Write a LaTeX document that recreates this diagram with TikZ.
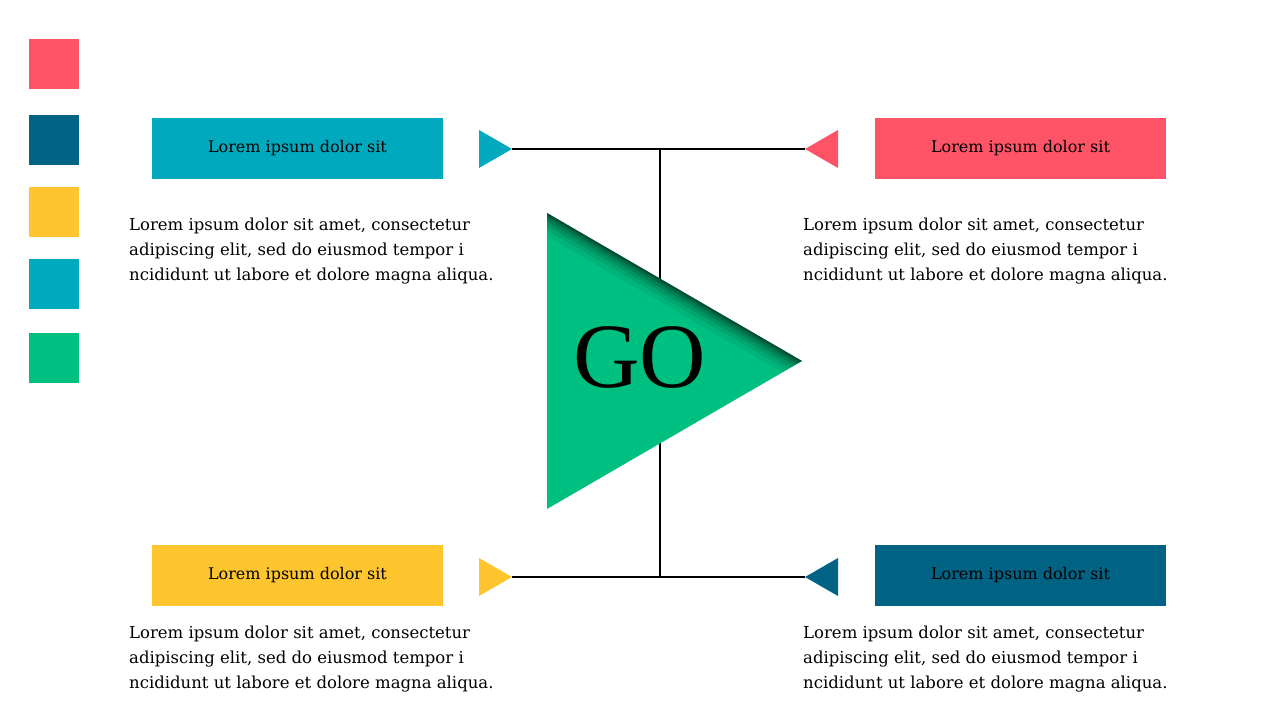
\documentclass[tikz,border=0pt]{standalone}
\usepackage{fontspec}
\setmainfont{DejaVu Serif}
\usetikzlibrary{positioning}
\definecolor{cpink}{HTML}{FF5468}
\definecolor{cnavy}{HTML}{006384}
\definecolor{cyell}{HTML}{FFC52E}
\definecolor{cteal}{HTML}{00A9BE}
\definecolor{cgreen}{HTML}{00C081}
\tikzset{
  swatch/.style={fill=#1, minimum width=50pt, minimum height=50pt, inner sep=0pt},
  label box/.style={fill=#1, minimum width=291pt, minimum height=61pt, inner sep=0pt, font=\fontsize{16}{18}\selectfont},
  body/.style={align=left, anchor=north west, inner sep=0pt, font=\fontsize{16.5}{25}\selectfont},
}
\begin{document}
\begin{tikzpicture}[x=1pt,y=-1pt]
\useasboundingbox (0,0) rectangle (1280,720);
% swatches
\node[swatch=cpink] (s1) at (54,64) {};
\node[swatch=cnavy] (s2) at (54,140) {};
\node[swatch=cyell] (s3) at (54,212) {};
\node[swatch=cteal] (s4) at (54,284) {};
\node[swatch=cgreen] (s5) at (54,358) {};
% connectors
\coordinate (tl) at (512,149);
\coordinate (tr) at (805,149);
\coordinate (bl) at (512,577);
\coordinate (br) at (805,577);
\coordinate (tm) at (660,149);
\coordinate (bm) at (660,577);
\draw[line width=1.5pt] (tl) -- (tr);
\draw[line width=1.5pt] (bl) -- (br);
\draw[line width=1.5pt] (tm) -- (bm);
% big triangle
\fill[cgreen] (547,213) -- (802,361) -- (547,509) -- cycle;
\begin{scope}
\clip (547,213) -- (802,361) -- (547,509) -- cycle;
\foreach \w/\o in {40/0.06,30/0.08,22/0.1,15/0.14,9/0.18,4/0.25}
  \draw[black, opacity=\o, line width=\w pt] (547,213) -- (802,361);
\end{scope}
\node[font=\fontsize{92}{92}\selectfont\rmfamily] (go) at (640,357) {\setmainfont{Liberation Serif}GO};
% small triangles
\fill[cteal] (tl) -- (479,130) -- (479,168) -- cycle;
\fill[cpink] (tr) -- (838,130) -- (838,168) -- cycle;
\fill[cyell] (bl) -- (479,558) -- (479,596) -- cycle;
\fill[cnavy] (br) -- (838,558) -- (838,596) -- cycle;
% label boxes
\node[label box=cteal] (b1) at (297.5,148.5) {Lorem ipsum dolor sit};
\node[label box=cpink] (b2) at (1020.5,148.5) {Lorem ipsum dolor sit};
\node[label box=cyell] (b3) at (297.5,575.5) {Lorem ipsum dolor sit};
\node[label box=cnavy] (b4) at (1020.5,575.5) {Lorem ipsum dolor sit};
% body texts
\node[body] (t1) at (129,218) {Lorem ipsum dolor sit amet, consectetur\\adipiscing elit, sed do eiusmod tempor i\\ncididunt ut labore et dolore magna aliqua.};
\node[body] (t2) at (803,218) {Lorem ipsum dolor sit amet, consectetur\\adipiscing elit, sed do eiusmod tempor i\\ncididunt ut labore et dolore magna aliqua.};
\node[body] (t3) at (129,626) {Lorem ipsum dolor sit amet, consectetur\\adipiscing elit, sed do eiusmod tempor i\\ncididunt ut labore et dolore magna aliqua.};
\node[body] (t4) at (803,626) {Lorem ipsum dolor sit amet, consectetur\\adipiscing elit, sed do eiusmod tempor i\\ncididunt ut labore et dolore magna aliqua.};
\end{tikzpicture}
\end{document}
